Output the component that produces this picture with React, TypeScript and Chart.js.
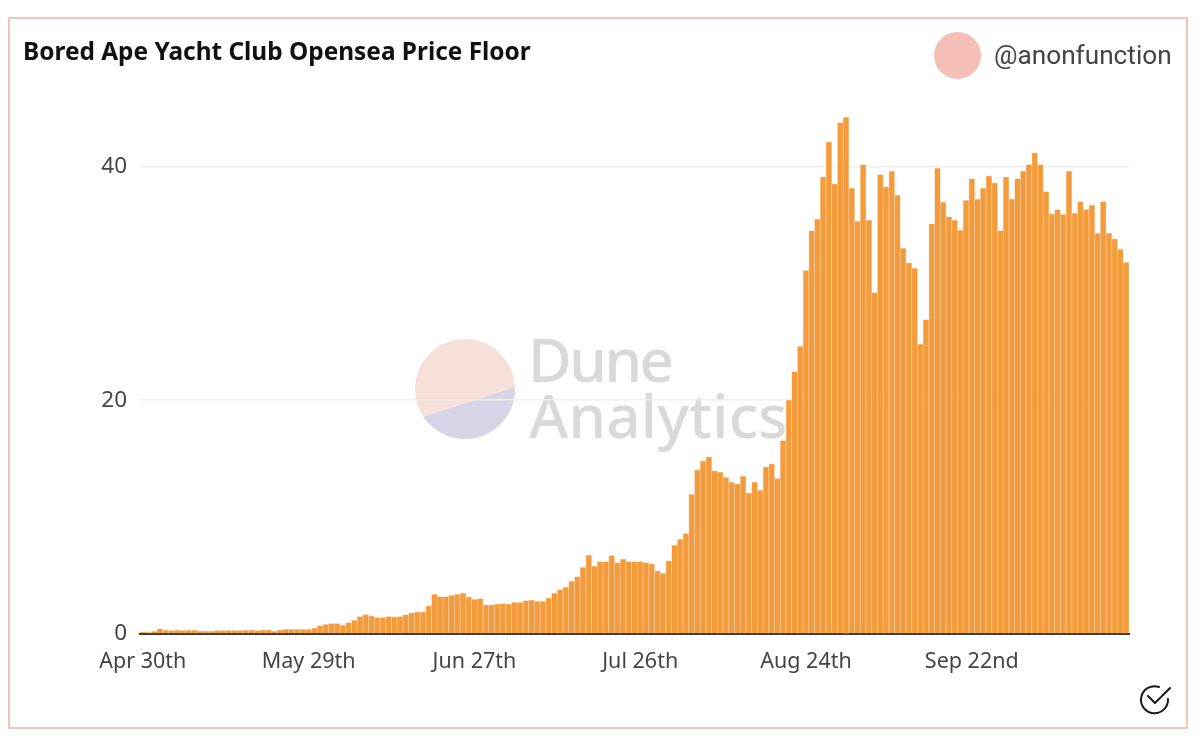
import React, { useEffect, useRef } from 'react';
import Chart from 'chart.js/auto';

// floor price in ETH, one bar per day starting Apr 30th
const prices = [
  0.17, 0.12, 0.23, 0.45, 0.33, 0.3, 0.33, 0.3, 0.33, 0.33,
  0.25, 0.25, 0.25, 0.3, 0.3, 0.3, 0.3, 0.3, 0.33, 0.36,
  0.3, 0.36, 0.36, 0.24, 0.36, 0.4, 0.4, 0.4, 0.4, 0.4,
  0.5, 0.72, 0.83, 0.9, 0.9, 0.75, 0.97, 1.17, 1.5, 1.67,
  1.52, 1.4, 1.4, 1.5, 1.47, 1.5, 1.65, 1.8, 1.9, 1.9,
  2.4, 3.4, 3.2, 3.2, 3.3, 3.4, 3.5, 3.17, 2.97, 3.03,
  2.5, 2.5, 2.57, 2.6, 2.55, 2.7, 2.7, 2.85, 2.9, 2.8,
  2.8, 3.1, 3.5, 3.8, 4.0, 4.5, 4.9, 5.7, 6.75, 5.8,
  6.2, 6.2, 6.7, 6.1, 6.4, 6.2, 6.2, 6.2, 6.1, 6.0,
  5.4, 5.2, 6.25, 7.6, 8.1, 8.6, 11.95, 14.05, 14.8, 15.15,
  13.95, 13.85, 13.4, 13.0, 12.85, 13.5, 12.05, 13.0, 12.3, 14.3,
  14.55, 13.3, 16.55, 20.0, 22.45, 24.6, 31.1, 34.5, 35.5, 39.1,
  42.1, 38.5, 43.75, 44.2, 38.15, 35.3, 40.15, 35.4, 29.2, 39.3,
  38.25, 39.6, 37.55, 33.0, 31.75, 31.3, 24.8, 26.9, 35.1, 39.85,
  36.95, 35.7, 35.4, 34.55, 37.1, 38.95, 37.2, 38.15, 39.2, 38.6,
  34.5, 39.1, 37.2, 38.95, 39.6, 40.15, 41.15, 40.15, 37.85, 35.95,
  36.3, 35.9, 39.6, 36.0, 37.0, 36.3, 36.7, 34.3, 37.0, 34.3,
  33.8, 32.9, 31.8,
];
const xTickLabels = ['Apr 30th', 'May 29th', 'Jun 27th', 'Jul 26th', 'Aug 24th', 'Sep 22nd'];
const xTickStep = 29;
const yTicks = [0, 20, 40];

const FONT = '"Noto Sans", sans-serif';

export default function App() {
  const canvasRef = useRef<HTMLCanvasElement>(null);

  useEffect(() => {
    const ctx = canvasRef.current?.getContext('2d');
    if (!ctx) return;

    const chart = new Chart(ctx, {
      type: 'bar',
      data: {
        labels: prices.map((_, i) => xTickLabels[i / xTickStep] ?? ''),
        datasets: [{
          data: prices,
          backgroundColor: 'rgba(243,146,42,0.92)',
          borderColor: 'rgba(250,205,160,0.9)',
          borderWidth: { left: 0.7, right: 0.7, top: 0.7, bottom: 0 },
          barPercentage: 1,
          categoryPercentage: 1,
        }],
      },
      options: {
        responsive: false,
        animation: false,
        layout: { padding: { top: 108, right: 71, bottom: 0, left: 0 } },
        plugins: { legend: { display: false }, tooltip: { enabled: false } },
        scales: {
          x: {
            afterFit: (scale: any) => { scale.height = 114; },
            grid: { display: false },
            border: { color: '#3a3a3a', width: 2 },
            ticks: {
              autoSkip: false,
              maxRotation: 0,
              padding: 7,
              color: '#444',
              font: { family: FONT, size: 21.5 },
            },
          },
          y: {
            min: 0,
            max: 45,
            afterFit: (scale: any) => { scale.width = 140; },
            afterBuildTicks: (scale: any) => { scale.ticks = yTicks.map((value) => ({ value })); },
            grid: {
              drawTicks: false,
              color: (c: any) => (c.tick?.value === 0 ? 'transparent' : '#eeeeee'),
              lineWidth: 1.5,
            },
            border: { display: false },
            ticks: {
              padding: 13,
              color: '#444',
              font: { family: FONT, size: 22.5 },
            },
          },
        },
      },
    });

    return () => chart.destroy();
  }, []);

  return (
    <div style={{ position: 'absolute', left: 0, top: 0, width: 1200, height: 748, background: '#fff', overflow: 'hidden', fontFamily: FONT }}>
      {/* outer frame */}
      <div style={{ position: 'absolute', left: 8, top: 16.5, width: 1175.5, height: 708, border: '2px solid #f5c2ba' }} />

      {/* watermark sits under the canvas so the grid line shows through */}
      <svg style={{ position: 'absolute', left: 0, top: 0 }} width={1200} height={748}>
        <defs>
          <clipPath id="logoClip"><circle cx={465} cy={389} r={50} /></clipPath>
        </defs>
        <circle cx={465} cy={389} r={50} fill="#f8e0da" />
        <path d="M400 438 L400 437 L424 416.5 L514.6 387.5 L530 380 L530 445 L400 445 Z" fill="#d5d5e5" clipPath="url(#logoClip)" />
      </svg>
      <div style={{ position: 'absolute', left: 528, top: 324, fontSize: 60, lineHeight: '70px', letterSpacing: -2.5, fontWeight: 500, color: '#d9d9d9' }}>
        Dune
      </div>
      <div style={{ position: 'absolute', left: 529, top: 380, fontSize: 60, lineHeight: '70px', letterSpacing: 0.2, fontWeight: 500, color: '#d9d9d9', whiteSpace: 'nowrap' }}>
        Analytics
      </div>

      <canvas ref={canvasRef} width={1200} height={748} style={{ position: 'absolute', left: 0, top: 0, display: 'block' }} />

      <div style={{ position: 'absolute', left: 23, top: 34, fontSize: 24.4, fontWeight: 700, color: '#111', whiteSpace: 'nowrap' }}>
        Bored Ape Yacht Club Opensea Price Floor
      </div>

      <div style={{ position: 'absolute', left: 934, top: 32, width: 47, height: 47, borderRadius: '50%', background: '#f5bfb8' }} />
      <div style={{ position: 'absolute', left: 994, top: 40, fontFamily: 'Roboto, sans-serif', fontSize: 26.2, color: '#444' }}>
        @anonfunction
      </div>

      {/* check icon */}
      <svg style={{ position: 'absolute', left: 1138, top: 682 }} width={36} height={36} viewBox="0 0 36 36" fill="none" stroke="#1a1a1a" strokeWidth={2} strokeLinecap="round" strokeLinejoin="round">
        <path d="M30 17 A13.5 13.5 0 1 1 21 5" />
        <path d="M10 14 L17 21 L32 6" />
      </svg>
    </div>
  );
}
